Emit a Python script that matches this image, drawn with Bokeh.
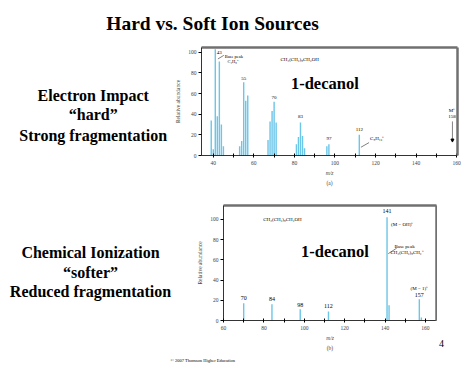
from bokeh.plotting import figure
from bokeh.layouts import column, row
from bokeh.models import Range1d, LinearAxis, FixedTicker, Arrow, NormalHead, Spacer
from bokeh.core.properties import value
from bokeh.embed import file_html
from bokeh.resources import INLINE

SERIF = "Liberation Serif"
BAR = "#6cc6e8"

# ---------------- data ----------------
# (a) Electron impact spectrum of 1-decanol
ei_mz = [39, 40, 41, 42, 43, 44, 45,
         53, 54, 55, 56, 57,
         67, 68, 69, 70, 71,
         81, 82, 83, 84, 85,
         96, 97,
         112]
ei_ab = [34, 6, 103, 38, 91, 30, 9,
         9, 14, 71, 53, 58,
         15, 33, 43, 52, 32,
         11, 18, 32, 19, 7,
         9, 11,
         20]

# (b) Chemical ionization spectrum of 1-decanol
ci_mz = [70, 84, 98, 112, 141, 142, 157, 158]
ci_ab = [17, 16, 11, 9, 102, 15, 21, 3]

ei_xticks = [40, 60, 80, 100, 120, 140, 160]
ei_minor = [50, 70, 90, 110, 130, 150]
ci_xticks = [60, 80, 100, 120, 140, 160]
ci_minor = [70, 90, 110, 130, 150]
y_ticks = [0, 20, 40, 60, 80, 100]

title_text = "Hard vs. Soft Ion Sources"
ei_lines = ["Electron Impact", "\u201chard\u201d", "Strong fragmentation"]
ci_lines = ["Chemical Ionization", "\u201csofter\u201d", "Reduced fragmentation"]
formula = "CH\u2083(CH\u2082)\u2088CH\u2082OH"
compound = "1-decanol"
credit = "\u00a9 2007 Thomson Higher Education"
slide_no = "4"


def blank(w, h, y0=None, y1=None):
    # y range given in page pixels (top y0, bottom y1) so text can be placed by page position
    if y0 is None:
        y0, y1 = 0, h
    p = figure(width=w, height=h, x_range=Range1d(0, w), y_range=Range1d(y1, y0),
               output_backend="svg", toolbar_location=None,
               x_axis_location=None, y_axis_location=None,
               min_border_left=0, min_border_right=0,
               min_border_top=0, min_border_bottom=0)
    p.grid.visible = False
    p.outline_line_color = None
    p.background_fill_color = "white"
    p.border_fill_color = "white"
    return p


def texts(p, xs, ys, labels, size, style="bold", align="center"):
    p.text(x=xs, y=ys, text=labels, text_font=value(SERIF), text_font_size=size,
           text_font_style=style, text_align=align, text_baseline="middle",
           text_color="black")


def spectrum(w, h, xr, yr, mz, ab, borders, xticks, minor, sub):
    left, right, top, bottom = borders
    p = figure(width=w, height=h, x_range=Range1d(*xr), y_range=Range1d(*yr),
               output_backend="svg", toolbar_location=None,
               min_border_left=left, min_border_right=right,
               min_border_top=top, min_border_bottom=bottom)
    p.grid.visible = False
    p.outline_line_color = None
    p.background_fill_color = "white"
    p.border_fill_color = "white"
    p.vbar(x=mz, top=ab, width=0.7, fill_color=BAR, line_color=None)

    xa = p.xaxis[0]
    xa.ticker = FixedTicker(ticks=xticks, minor_ticks=minor)
    xa.axis_line_color = "black"
    xa.axis_line_width = 0.8
    xa.major_tick_in = 2
    xa.major_tick_out = 2
    xa.minor_tick_in = 2
    xa.minor_tick_out = 2
    xa.major_tick_line_color = "black"
    xa.minor_tick_line_color = "black"
    xa.major_label_text_font = SERIF
    xa.major_label_text_font_size = "5.5px"
    xa.major_label_standoff = 3
    xa.axis_label = "m/z"
    xa.axis_label_text_font = SERIF
    xa.axis_label_text_font_size = "5.5px"
    xa.axis_label_standoff = 2

    ya = p.yaxis[0]
    ya.ticker = FixedTicker(ticks=y_ticks)
    ya.axis_line_color = "black"
    ya.axis_line_width = 0.8
    ya.major_tick_in = 0
    ya.major_tick_out = 3
    ya.minor_tick_line_color = None
    ya.major_tick_line_color = "black"
    ya.major_label_text_font = SERIF
    ya.major_label_text_font_size = "5.5px"
    ya.major_label_standoff = 2
    ya.axis_label = "Relative abundance"
    ya.axis_label_text_font = SERIF
    ya.axis_label_text_font_size = "5.5px"
    ya.axis_label_text_font_style = "normal"
    ya.axis_label_standoff = 4

    for side in ("above", "right"):
        ax = LinearAxis(ticker=FixedTicker(ticks=[]), axis_line_color="#707070",
                        axis_line_width=2.5, major_tick_line_color=None,
                        minor_tick_line_color=None, major_label_text_font_size="0px",
                        major_label_standoff=0)
        p.add_layout(ax, side)

    subax = LinearAxis(ticker=FixedTicker(ticks=[]), axis_line_color=None,
                       major_tick_line_color=None, minor_tick_line_color=None,
                       major_label_text_font_size="0px", major_label_standoff=0,
                       axis_label=sub, axis_label_text_font=SERIF,
                       axis_label_text_font_size="5.5px",
                       axis_label_text_font_style="normal", axis_label_standoff=1)
    p.add_layout(subax, "below")
    return p


# ---------------- title (page y 0..38) ----------------
t = blank(466, 38)
texts(t, [212], [22.5], [title_text], "19.5px")

# ---------------- row 1 (page y 38..188); plot frame 47..156 ----------------
l1 = blank(172, 150, 47, 156)
texts(l1, [92.7, 92.7, 92.7], [95, 115, 136], ei_lines, "16px")

s1 = spectrum(294, 150, (34.2, 160.4), (0, 104.6), ei_mz, ei_ab,
              (27, 9, 9, 32), ei_xticks, ei_minor, "(a)")
texts(s1, [43, 55, 70, 83, 97, 112], [100, 75, 56, 37.5, 16, 25],
      ["43", "55", "70", "83", "97", "112"], "5px", style="normal")
texts(s1, [45.6, 47.0], [96, 91], ["Base peak", "C\u2084H\u2089\u207a"], "4.5px",
      style="normal", align="left")
texts(s1, [82.6], [93], [formula], "5px", style="normal")
texts(s1, [95.0], [70], [compound], "16.5px")
texts(s1, [117.3], [16.3], ["C\u2088H\u2081\u2086\u207a"], "5px", style="normal", align="left")
texts(s1, [157.7, 157.7], [44, 37.4], ["M\u207a", "158"], "5px", style="normal")
s1.segment(x0=[45.2, 112.8], y0=[97, 8], x1=[42.3, 116.8], y1=[93.5, 12.5],
           line_color="black", line_width=0.5)
s1.add_layout(Arrow(end=NormalHead(size=3, fill_color="black", line_color="black"),
                    x_start=157.9, y_start=33, x_end=157.9, y_end=13,
                    line_width=0.5, line_color="black"))

# ---------------- row 2 (page y 188..353); plot frame 205..322 ----------------
l2 = blank(194, 165, 205, 322)
texts(l2, [90, 90, 90], [253.3, 273, 293], ci_lines, "16px")

s2 = spectrum(243, 165, (60, 165.5), (0, 113.6), ci_mz, ci_ab,
              (25, 1, 17, 31), ci_xticks, ci_minor, "(b)")
texts(s2, [70, 84, 98, 112, 141, 157], [22.3, 21.4, 15.5, 13.9, 108, 25.5],
      ["70", "84", "98", "112", "141", "157"], "6px", style="normal")
texts(s2, [89.2], [100], [formula], "5px", style="normal")
texts(s2, [115.2], [68], [compound], "16.5px")
texts(s2, [143.0], [95], ["(M \u2212 OH)\u207a"], "5px", style="normal", align="left")
texts(s2, [149.7, 150.9], [73, 67.3], ["Base peak", "CH\u2083(CH\u2082)\u2088CH\u2082\u207a"],
      "5px", style="normal")
texts(s2, [157], [32], ["(M \u2212 1)\u207a"], "5px", style="normal")
s2.segment(x0=[141.6], y0=[66], x1=[145.8], y1=[71.5], line_color="black", line_width=0.5)

# slide number, page y 333..353
num = blank(29, 20)
texts(num, [4], [10], [slide_no], "10px", style="normal")
r2 = column(Spacer(width=29, height=145), num)

# ---------------- credit row (page y 353..363) ----------------
c = blank(466, 10)
texts(c, [170], [5], [credit], "4.5px", style="normal", align="left")

layout = column(t, row(l1, s1), row(l2, s2, r2), c)

open("out.html", "w").write(file_html(layout, INLINE))
